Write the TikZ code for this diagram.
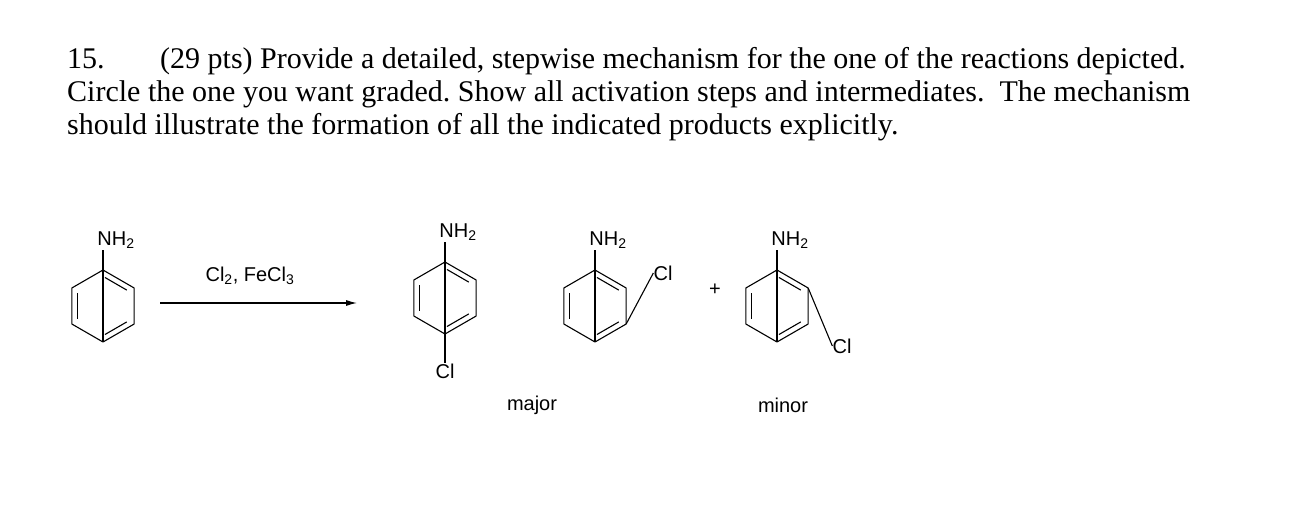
\documentclass[tikz,border=0pt]{standalone}
\usepackage{fontspec}
\usetikzlibrary{calc,arrows.meta}
\setmainfont{Liberation Serif}
\newfontfamily\chem{Liberation Sans}
\newcommand\myring[3]{%
  \foreach \a in {90,30,-30,-90,-150,150} \coordinate (#3\a) at ($(#1,#2)+(\a:36)$);
  \draw[bnd,line join=round] (#390)--(#330)--(#3-30)--(#3-90)--(#3-150)--(#3150)--cycle;
  \draw[bnd] ($(#390)!0.15!(#330)+(-120:5.5)$) -- ($(#390)!0.85!(#330)+(-120:5.5)$);
  \draw[bnd] ($(#3-30)!0.15!(#3-90)+(120:5.5)$) -- ($(#3-30)!0.85!(#3-90)+(120:5.5)$);
  \draw[bnd] ($(#3-150)!0.15!(#3150)+(0:5.5)$) -- ($(#3-150)!0.85!(#3150)+(0:5.5)$);}
\begin{document}
\begin{tikzpicture}[x=1pt,y=-1pt,
  ttl/.style={anchor=base west,inner sep=0pt,font=\fontsize{30}{34}\selectfont},
  lab/.style={inner sep=0pt,font=\chem\fontsize{20}{22}\selectfont},
  bnd/.style={line width=1.1pt}]
\useasboundingbox (0,0) rectangle (1294,506);
\node[ttl] (n15) at (67,68) {15.};
\node[ttl] (l1) at (160,68) {(29 pts)\ Provide a detailed, stepwise mechanism for the one of the reactions depicted.};
\node[ttl] (l2) at (67,101) {Circle the one you want graded.\ Show all activation steps and intermediates.\ \ The mechanism};
\node[ttl] (l3) at (67,134) {should illustrate the formation of all the indicated products explicitly.};
% aniline
\myring{103}{306}{a}
\node[lab] (aN) at (116,240) {NH\textsubscript{2}};
\draw[bnd] (a90) -- (103,250);
% arrow
\coordinate (arS) at (160,303);
\coordinate (arE) at (357,303);
\draw[bnd,-{Latex[length=11pt,width=6pt]}] (arS) -- (arE);
\node[lab] (reag) at (250,276) {Cl\textsubscript{2}, FeCl\textsubscript{3}};
% para
\myring{445}{298}{p}
\node[lab] (pN) at (458,232) {NH\textsubscript{2}};
\draw[bnd] (p90) -- (445,242);
\node[lab] (pCl) at (445,371) {Cl};
\draw[bnd] (p-90) -- (pCl.north);
% ortho
\myring{595}{306}{o}
\node[lab] (oN) at (608,240) {NH\textsubscript{2}};
\draw[bnd] (o90) -- (595,250);
\node[lab] (oCl) at (663,273) {Cl};
\draw[bnd] (o30) -- (oCl.west);
\node[lab] (plus) at (715,290) {+};
% meta
\myring{777}{306}{m}
\node[lab] (mN) at (790,240) {NH\textsubscript{2}};
\draw[bnd] (m90) -- (777,250);
\node[lab] (mCl) at (842,346) {Cl};
\draw[bnd] (m-30) -- (mCl.west);
\node[lab] (major) at (532,405) {major};
\node[lab] (minor) at (783,405) {minor};
\end{tikzpicture}
\end{document}
